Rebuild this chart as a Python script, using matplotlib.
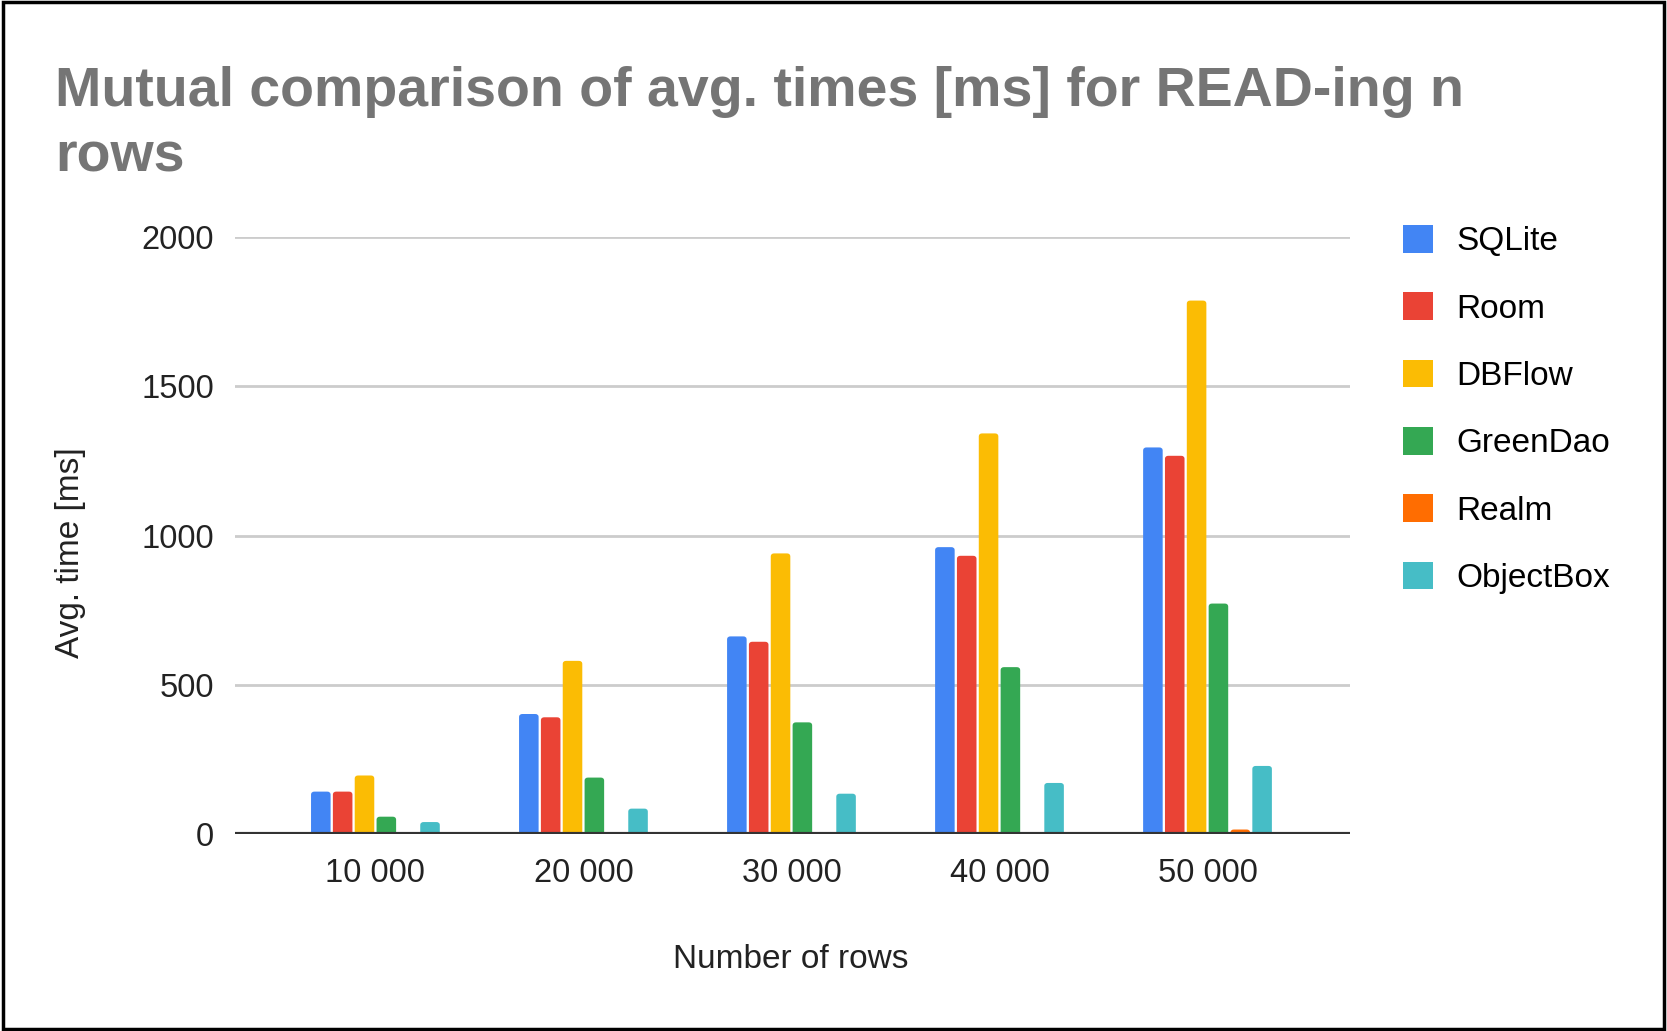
import matplotlib
matplotlib.use("Agg")
import matplotlib.pyplot as plt
from matplotlib.patches import FancyBboxPatch, Patch
import numpy as np

plt.rcParams['font.family'] = ['Liberation Sans', 'DejaVu Sans']

categories = ['10 000', '20 000', '30 000', '40 000', '50 000']
series_names = ['SQLite', 'Room', 'DBFlow', 'GreenDao', 'Realm', 'ObjectBox']
sqlite = [142, 402, 662, 961, 1295]
room = [142, 391, 644, 932, 1267]
dbflow = [196, 580, 940, 1342, 1787]
greendao = [58, 189, 374, 559, 772]
realm = [0, 0, 0, 0, 15]
objectbox = [40, 85, 135, 171, 228]
colors = ['#4285F4', '#EA4335', '#FBBC04', '#34A853', '#FF6D01', '#46BDC6']

W, H = 1667, 1031
fig = plt.figure(figsize=(W / 100, H / 100), dpi=100)
ax = fig.add_axes([235 / W, 1 - 834 / H, (1350 - 235) / W, (834 - 237) / H])

x = np.arange(len(categories))
slot = 0.105
width = 0.094
all_series = [sqlite, room, dbflow, greendao, realm, objectbox]
n = len(all_series)
handles = []
for i, (vals, name, col) in enumerate(zip(all_series, series_names, colors)):
    offs = (i - (n - 1) / 2) * slot
    bars = ax.bar(x + offs, vals, width, color=col, zorder=3)
    # swap plain rectangles for ones with rounded tops
    for r in bars:
        r.set_visible(False)
        if r.get_height() <= 0:
            continue
        ax.add_patch(FancyBboxPatch((r.get_x(), -12), r.get_width(), r.get_height() + 12,
                                    boxstyle='round,pad=0,rounding_size=0.016',
                                    mutation_aspect=650, facecolor=col,
                                    edgecolor='none', zorder=3))
    handles.append(Patch(facecolor=col, label=name))

ax.set_xlim(-0.675, 4.685)
ax.set_ylim(0, 2000)
ax.set_yticks([0, 500, 1000, 1500, 2000])
ax.set_xticks(x)
ax.set_xticklabels(categories)
ax.grid(axis='y', color='#cccccc', linewidth=2, zorder=0)
ax.axhline(0, color='#333333', linewidth=3, zorder=4)
for s in ax.spines.values():
    s.set_visible(False)
ax.tick_params(axis='both', length=0, labelsize=23.5, colors='#222222')
ax.tick_params(axis='y', pad=15)
ax.tick_params(axis='x', pad=17)

fig.text(71 / W, 1 - 553 / H, 'Avg. time [ms]', rotation=90, ha='center', va='center',
         fontsize=24, color='#222222')
fig.text(791 / W, 1 - 960 / H, 'Number of rows', ha='center', va='center',
         fontsize=24, color='#222222')

fig.text(55 / W, 1 - 106 / H, 'Mutual comparison of avg. times [ms] for READ-ing n',
         fontsize=40, fontweight='bold', color='#757575', va='baseline', ha='left')
fig.text(55 / W, 1 - 171 / H, 'rows',
         fontsize=40, fontweight='bold', color='#757575', va='baseline', ha='left')

fig.legend(handles=handles, loc='upper left', bbox_to_anchor=(1403 / W, 1 - 225 / H),
           frameon=False, fontsize=24, handlelength=0.9, handleheight=0.9,
           labelspacing=1.05, handletextpad=0.7, borderaxespad=0, borderpad=0)

border = plt.Rectangle((0.0015, 0.002), 0.997, 0.996, transform=fig.transFigure,
                       fill=False, edgecolor='black', linewidth=2.5)
fig.patches.append(border)

fig.savefig('out.png', dpi=100, facecolor='white')
